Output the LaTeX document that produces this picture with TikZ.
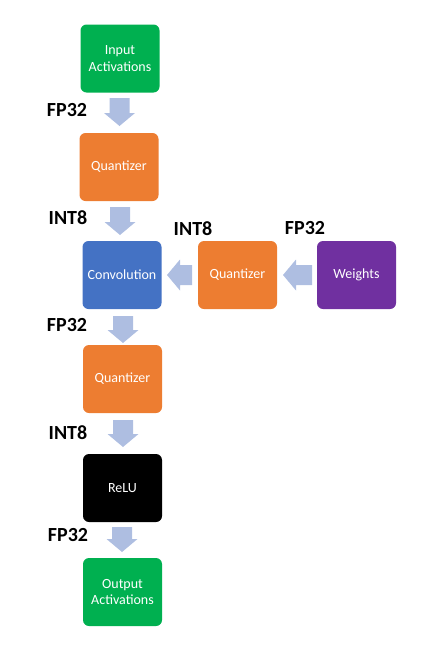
\documentclass[tikz,border=0pt]{standalone}
\usepackage{fontspec}
\setmainfont{Carlito}

\definecolor{actgreen}{RGB}{0,176,80}
\definecolor{quantorange}{RGB}{237,125,49}
\definecolor{convblue}{RGB}{68,114,196}
\definecolor{wtspurple}{RGB}{112,48,160}
\definecolor{flowblue}{RGB}{174,190,225}

\tikzset{
  block/.style={rectangle, rounded corners=6pt, minimum width=79pt, minimum height=68pt,
    text=white, align=center, inner sep=2pt, font=\fontsize{14}{16.5}\selectfont},
  dtype/.style={font=\bfseries\fontsize{20}{22}\selectfont, inner sep=0pt},
  % block arrow, tail at the pic origin, pointing along +y (down here)
  pics/flowarrow/.style={code={
    \fill[flowblue] (-10,0) -- (10,0) -- (10,#1-13) -- (15.5,#1-13) -- (0,#1)
      -- (-15.5,#1-13) -- (-10,#1-13) -- cycle;}}
}

\begin{document}
\begin{tikzpicture}[x=1pt, y=-1pt]
   \useasboundingbox (0,0) rectangle (435,645);
   % main column
   \node[block, fill=actgreen] (inact) at (120,58.5) {Input\\Activations};
   \node[block, fill=quantorange] (quant1) at (119,167) {Quantizer};
   \node[block, fill=convblue] (conv) at (122,275) {Convolution};
   \node[block, fill=quantorange] (quant3) at (122.5,379) {Quantizer};
   \node[block, fill=black] (relu) at (122.5,488) {ReLU};
   \node[block, fill=actgreen] (outact) at (122.5,592) {Output\\Activations};
   % weights branch
   \node[block, fill=quantorange] (quant2) at (237.5,275) {Quantizer};
   \node[block, fill=wtspurple] (wts) at (356.5,275) {Weights};

   % data types
   \node[dtype] (t1) at (67,110) {FP32};
   \node[dtype] (t2) at (68,218) {INT8};
   \node[dtype] (t3) at (193,228.5) {INT8};
   \node[dtype] (t4) at (305,228.5) {FP32};
   \node[dtype] (t5) at (67,325) {FP32};
   \node[dtype] (t6) at (68,433) {INT8};
   \node[dtype] (t7) at (68,535) {FP32};

   % flow arrows
   \pic (f1) at (119.5,98) {flowarrow=28};
   \pic (f2) at (120,207) {flowarrow=28};
   \pic (f3) at (123,316) {flowarrow=27};
   \pic (f4) at (123,420) {flowarrow=27};
   \pic (f5) at (122,527) {flowarrow=25};
   \pic[rotate=-90] (f6) at (192,275) {flowarrow=25};
   \pic[rotate=-90] (f7) at (312,275) {flowarrow=29};
\end{tikzpicture}
\end{document}
